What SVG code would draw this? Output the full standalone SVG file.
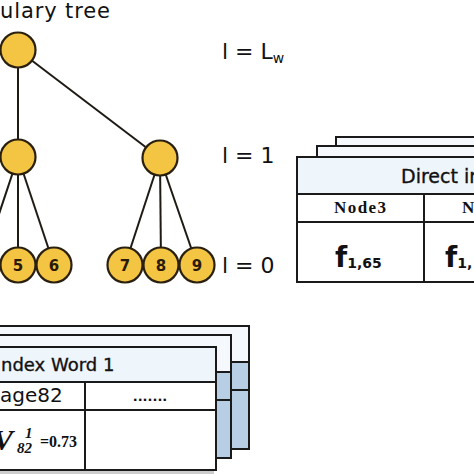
<svg xmlns="http://www.w3.org/2000/svg" width="474" height="474" viewBox="0 0 474 474">
<style>
.edge{stroke:#1e1a14;stroke-width:2;fill:none}
.node{fill:#f4c443;stroke:#2a2010;stroke-width:2.2}
.num{font-family:"DejaVu Sans",sans-serif;font-weight:bold;font-size:15px;fill:#2a1a08;text-anchor:middle}
.lvl{font-family:"DejaVu Sans",sans-serif;font-size:22px;fill:#111}
.sans{font-family:"DejaVu Sans",sans-serif;fill:#111}
.serif{font-family:"Liberation Serif","Times New Roman",serif;fill:#111}
.bd{stroke:#1a1a1a;stroke-width:2}
.hdr{fill:#eef5fb}
.lite{fill:#f5f9fd}
.blue{fill:#b8cee5}
.white{fill:#ffffff}
</style>
<rect x="0" y="0" width="474" height="474" fill="#ffffff"/>

<g id="title">
<text class="sans" x="0" y="18" font-size="21" textLength="110" lengthAdjust="spacing">ulary tree</text>
</g>

<g id="connectors">
<line class="edge" x1="18" y1="50" x2="18" y2="157"/>
<line class="edge" x1="18" y1="50" x2="160" y2="158"/>
<line class="edge" x1="18" y1="157" x2="-18" y2="265"/>
<line class="edge" x1="18" y1="157" x2="18" y2="265"/>
<line class="edge" x1="18" y1="157" x2="54" y2="265"/>
<line class="edge" x1="160" y1="158" x2="125" y2="265"/>
<line class="edge" x1="160" y1="158" x2="161" y2="265"/>
<line class="edge" x1="160" y1="158" x2="197" y2="265"/>
</g>

<g id="node-root"><circle class="node" cx="18" cy="50" r="17.5"/></g>
<g id="node-l1-left"><circle class="node" cx="18" cy="157" r="17.5"/></g>
<g id="node-l1-right"><circle class="node" cx="160" cy="158" r="17.5"/></g>
<g id="node-4"><circle class="node" cx="-17" cy="265" r="17.5"/></g>
<g id="node-5"><circle class="node" cx="18" cy="265" r="17.5"/><text class="num" x="18" y="270.5">5</text></g>
<g id="node-6"><circle class="node" cx="54" cy="265" r="17.5"/><text class="num" x="54" y="270.5">6</text></g>
<g id="node-7"><circle class="node" cx="125" cy="265" r="17.5"/><text class="num" x="125" y="270.5">7</text></g>
<g id="node-8"><circle class="node" cx="161" cy="265" r="17.5"/><text class="num" x="161" y="270.5">8</text></g>
<g id="node-9"><circle class="node" cx="197" cy="265" r="17.5"/><text class="num" x="197" y="270.5">9</text></g>

<g id="level-labels">
<text class="lvl" x="222" y="59">l = L<tspan font-size="14" dy="4">w</tspan></text>
<text class="lvl" x="222" y="163">l = 1</text>
<text class="lvl" x="222" y="273">l = 0</text>
</g>

<g id="direct-index">
<rect class="lite bd" x="336" y="137" width="200" height="135"/>
<rect class="lite bd" x="317" y="146" width="200" height="125"/>
<rect class="white bd" x="297" y="157" width="200" height="125"/>
<rect class="hdr" x="298" y="158" width="190" height="36"/>
<line class="bd" x1="297" y1="194" x2="480" y2="194"/>
<line class="bd" x1="297" y1="222" x2="480" y2="222"/>
<line class="bd" x1="424" y1="194" x2="424" y2="282"/>
<text class="sans" x="401" y="183" font-size="19" stroke="#111" stroke-width="0.35">Direct in</text>
<text class="serif" x="334" y="213" font-size="17" font-weight="bold" textLength="52" lengthAdjust="spacing">Node3</text>
<text class="serif" x="462" y="213" font-size="17" font-weight="bold">N</text>
<text class="sans" x="335" y="267" font-size="28" font-weight="bold">f<tspan font-size="14" dy="1">1,65</tspan></text>
<text class="sans" x="445" y="267" font-size="28" font-weight="bold">f<tspan font-size="14" dy="1">1,</tspan></text>
</g>

<g id="index-word">
<rect class="lite bd" x="-20" y="326" width="269" height="123"/>
<rect class="blue" x="-20" y="362" width="269" height="87"/>
<line class="bd" x1="-20" y1="362" x2="249" y2="362"/>
<line class="bd" x1="-20" y1="390" x2="249" y2="390"/>
<rect class="bd" x="-20" y="326" width="269" height="123" fill="none"/>

<rect class="lite bd" x="-20" y="335" width="251" height="123"/>
<rect class="blue" x="-20" y="372" width="251" height="86"/>
<line class="bd" x1="-20" y1="372" x2="231" y2="372"/>
<line class="bd" x1="-20" y1="400" x2="231" y2="400"/>
<rect class="bd" x="-20" y="335" width="251" height="123" fill="none"/>

<rect x="0" y="471" width="214" height="3" fill="#cdcdcd"/>
<rect class="white bd" x="-20" y="347" width="236" height="123"/>
<rect class="hdr" x="-19" y="348" width="234" height="34"/>
<line class="bd" x1="-20" y1="382" x2="216" y2="382"/>
<line class="bd" x1="-20" y1="410" x2="216" y2="410"/>
<line class="bd" x1="85" y1="382" x2="85" y2="470"/>
<text class="sans" x="1" y="371" font-size="18" stroke="#111" stroke-width="0.35">ndex Word 1</text>
<text class="sans" x="0" y="402" font-size="20">age82</text>
<text class="sans" x="150" y="401" font-size="13" font-weight="bold" text-anchor="middle">.......</text>
<text class="serif" x="-7" y="450" font-size="30" font-weight="bold" font-style="italic">V</text>
<text class="serif" x="25" y="438" font-size="15" font-weight="bold" font-style="italic">1</text>
<text class="serif" x="17" y="453" font-size="15" font-weight="bold" font-style="italic">82</text>
<text class="serif" x="40" y="447" font-size="16" font-weight="bold">=0.73</text>
</g>
</svg>
